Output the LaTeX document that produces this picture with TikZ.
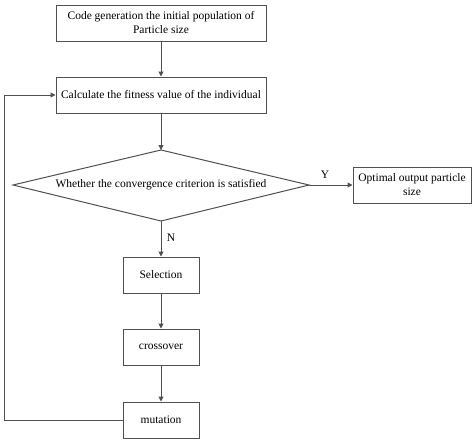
\documentclass[tikz,border=0pt]{standalone}
\usepackage{fontspec}
\setmainfont{Liberation Serif}
\usetikzlibrary{arrows.meta}
\definecolor{linegray}{RGB}{80,80,80}
\begin{document}
\begin{tikzpicture}[x=1pt,y=-1pt,
  box/.style={draw=linegray, line width=1pt, fill=white, inner sep=0pt, font=\fontsize{11.5}{14}\selectfont, align=center},
  conn/.style={draw=linegray, line width=1pt, -{Triangle[length=5pt,width=5pt]}},
  lab/.style={font=\fontsize{11.5}{14}\selectfont}]
\useasboundingbox (0,0) rectangle (474,442);
\node[box, minimum width=210pt, minimum height=36pt] (init) at (161,23) {Code generation the initial population of\\Particle size};
\node[box, minimum width=210pt, minimum height=36pt] (calc) at (161,95) {Calculate the fitness value of the individual};
\coordinate (dt) at (161,150);
\coordinate (db) at (161,221);
\coordinate (dl) at (13,185);
\coordinate (dr) at (309,185);
\draw[draw=linegray, line width=1pt, fill=white] (dt) -- (dr) -- (db) -- (dl) -- cycle;
\node[lab] (dtext) at (161,185) {Whether the convergence criterion is satisfied};
\node[box, minimum width=118pt, minimum height=36pt] (out) at (412,185) {Optimal output particle\\size};
\node[box, minimum width=76pt, minimum height=36pt] (sel) at (161,275) {Selection};
\node[box, minimum width=76pt, minimum height=36pt] (cross) at (161,347) {crossover};
\node[box, minimum width=76pt, minimum height=36pt] (mut) at (161,420) {mutation};
\coordinate (lbot) at (4,420);
\coordinate (ltop) at (4,95);
\draw[conn] (init) -- (calc);
\draw[conn] (calc) -- (dt);
\draw[conn] (dr) -- (out);
\draw[conn] (db) -- (sel);
\draw[conn] (sel) -- (cross);
\draw[conn] (cross) -- (mut);
\draw[conn] (mut.west) -- (lbot) -- (ltop) -- (calc.west);
\node[lab] (ylab) at (325,175) {Y};
\node[lab] (nlab) at (171,238) {N};
\end{tikzpicture}
\end{document}
